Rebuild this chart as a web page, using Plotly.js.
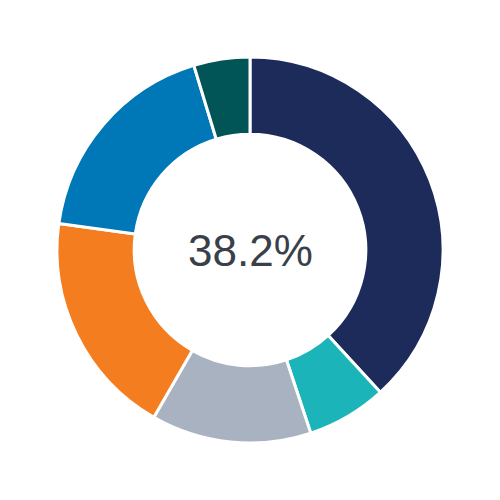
<!DOCTYPE html>
<html>
<head>
<meta charset="utf-8">
<script src="https://cdn.plot.ly/plotly-3.0.1.min.js"></script>
<style>
  html, body { margin: 0; padding: 0; background: #fff; }
  #chart { width: 500px; height: 500px; }
</style>
</head>
<body>
<div id="chart"></div>
<script>
// slices, clockwise from 12 o'clock
var labels = ['A', 'B', 'C', 'D', 'E', 'F'];
var shares = [38.2, 6.7, 13.4, 18.9, 18.1, 4.7];
var colors = ['#1c2b5a', '#1bb5b9', '#a8b2c1', '#f47d20', '#0077b6', '#025557'];
var centerLabel = '38.2%';

var trace = {
  type: 'pie',
  labels: labels,
  values: shares,
  hole: 0.6,
  sort: false,
  direction: 'clockwise',
  rotation: 0,
  textinfo: 'none',
  hoverinfo: 'none',
  marker: { colors: colors, line: { color: '#ffffff', width: 3 } }
};

var layout = {
  width: 500,
  height: 500,
  margin: { l: 57, r: 57, t: 57, b: 57 },
  showlegend: false,
  paper_bgcolor: '#ffffff',
  annotations: [{
    text: centerLabel,
    x: 0.5, y: 0.5, xref: 'paper', yref: 'paper',
    showarrow: false,
    font: { family: 'Liberation Sans, Arial, sans-serif', size: 44, color: '#3a4049' }
  }]
};

Plotly.newPlot('chart', [trace], layout, { staticPlot: true });
</script>
</body>
</html>
